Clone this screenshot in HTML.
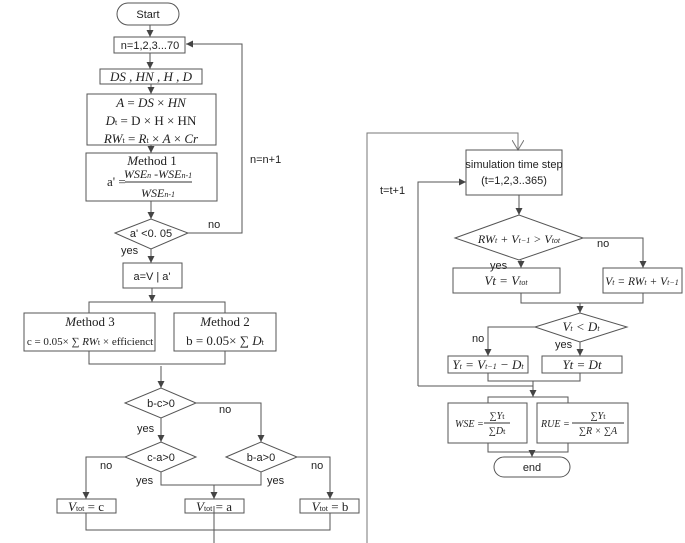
<!DOCTYPE html>
<html><head><meta charset="utf-8"><style>
html,body{margin:0;padding:0;background:#fff}
svg{display:block}
text{font-family:"Liberation Sans",Arial,sans-serif;font-size:11px;fill:#222}
.m{font-family:"Liberation Serif",serif;font-size:13px}
.i{font-style:italic}
.s{font-size:8px}
</style></head><body>
<svg width="685" height="543" viewBox="0 0 685 543" xmlns="http://www.w3.org/2000/svg">
<defs><marker id="a" markerWidth="8" markerHeight="8" refX="7" refY="4" orient="auto" markerUnits="userSpaceOnUse"><path d="M0,0.5 L7,4 L0,7.5z" fill="#444"/></marker>
<marker id="o" markerWidth="12" markerHeight="12" refX="10" refY="6" orient="auto" markerUnits="userSpaceOnUse"><path d="M0,0 L10,6 L0,12" fill="none" stroke="#777"/></marker></defs>
<g fill="none" stroke="#555" stroke-width="1">
<rect x="117" y="3" width="62" height="22" rx="11"/>
<line x1="150" y1="25" x2="150" y2="37" marker-end="url(#a)"/>
<rect x="114" y="37" width="71" height="16"/>
<line x1="150" y1="53" x2="150" y2="69" marker-end="url(#a)"/>
<rect x="100" y="69" width="102" height="15"/>
<line x1="151" y1="84" x2="151" y2="94" marker-end="url(#a)"/>
<rect x="87" y="94" width="129" height="51"/>
<line x1="151" y1="145" x2="151" y2="153" marker-end="url(#a)"/>
<rect x="86" y="153" width="131" height="48"/>
<line x1="151" y1="201" x2="151" y2="219" marker-end="url(#a)"/>
<polygon points="115,233 151,219 188,233 151,249"/>
<polyline points="188,233 242,233 242,44 186,44" marker-end="url(#a)"/>
<line x1="151" y1="249" x2="151" y2="263" marker-end="url(#a)"/>
<rect x="123" y="263" width="59" height="25"/>
<line x1="152" y1="288" x2="152" y2="302" marker-end="url(#a)"/>
<polyline points="89,313 89,302 225,302 225,313"/>
<rect x="24" y="313" width="131" height="38"/>
<rect x="174" y="313" width="102" height="38"/>
<polyline points="89,351 89,364 225,364 225,351"/>
<line x1="161" y1="366" x2="161" y2="388" marker-end="url(#a)"/>
<polygon points="125,403 161,388 196,403 161,418"/>
<polyline points="196,403 261,403 261,442" marker-end="url(#a)"/>
<line x1="161" y1="418" x2="161" y2="442" marker-end="url(#a)"/>
<polygon points="125,457 161,442 196,457 161,472"/>
<polygon points="226,457 261,442 297,457 261,472"/>
<polyline points="125,457 86,457 86,499" marker-end="url(#a)"/>
<polyline points="161,472 161,485 261,485 261,472"/>
<line x1="214" y1="485" x2="214" y2="499" marker-end="url(#a)"/>
<polyline points="297,457 330,457 330,499" marker-end="url(#a)"/>
<rect x="57" y="499" width="59" height="14"/>
<rect x="185" y="499" width="59" height="14"/>
<rect x="300" y="499" width="59" height="14"/>
<polyline points="86,513 86,530 330,530 330,513"/>
<line x1="214" y1="506" x2="214" y2="543"/>
<polyline points="367,543 367,133 518,133 518,150" stroke="#777" marker-end="url(#o)"/>
<rect x="466" y="150" width="96" height="45"/>
<polyline points="418,386 418,182 466,182" marker-end="url(#a)"/>
<line x1="519" y1="195" x2="519" y2="215" marker-end="url(#a)"/>
<polygon points="455,238 519,215 583,238 519,260"/>
<line x1="521" y1="260" x2="521" y2="268" marker-end="url(#a)"/>
<polyline points="583,238 643,238 643,268" marker-end="url(#a)"/>
<rect x="453" y="268" width="107" height="25"/>
<rect x="603" y="268" width="79" height="25"/>
<polyline points="521,293 521,303 643,303 643,293"/>
<line x1="580" y1="303" x2="580" y2="313" marker-end="url(#a)"/>
<polygon points="535,327 580,313 627,327 580,342"/>
<polyline points="535,327 488,327 488,356" marker-end="url(#a)"/>
<line x1="580" y1="342" x2="580" y2="356" marker-end="url(#a)"/>
<rect x="448" y="356" width="80" height="17"/>
<rect x="542" y="356" width="80" height="17"/>
<polyline points="488,373 488,381 580,381 580,373"/>
<line x1="418" y1="386" x2="533" y2="386"/>
<line x1="533" y1="381" x2="533" y2="397" marker-end="url(#a)"/>
<polyline points="488,403 488,397 568,397 568,403"/>
<rect x="448" y="403" width="79" height="40"/>
<rect x="537" y="403" width="91" height="40"/>
<polyline points="488,443 488,452 568,452 568,443"/>
<line x1="532" y1="452" x2="532" y2="457" marker-end="url(#a)"/>
<rect x="494" y="457" width="76" height="20" rx="10"/>
</g>
<text x="148" y="18" text-anchor="middle">Start</text>
<text x="150" y="49" text-anchor="middle">n=1,2,3...70</text>
<text x="151" y="81" text-anchor="middle" class="m i">DS , HN , H , D</text>
<text x="151" y="107" text-anchor="middle" class="m"><tspan class="i">A</tspan> = <tspan class="i">DS</tspan> × <tspan class="i">HN</tspan></text>
<text x="151" y="125" text-anchor="middle" class="m"><tspan class="i">D</tspan><tspan class="s">t</tspan> = D × H × HN</text>
<text x="151" y="143" text-anchor="middle" class="m"><tspan class="i">RW</tspan><tspan class="s">t</tspan> = <tspan class="i">R</tspan><tspan class="s">t</tspan> × <tspan class="i">A</tspan> × <tspan class="i">Cr</tspan></text>
<text x="152" y="165" text-anchor="middle" class="m"><tspan class="i">M</tspan>ethod 1</text>
<text x="107" y="186" class="m">a' =</text>
<line x1="125" y1="182" x2="192" y2="182" stroke="#333"/>
<text x="158" y="178" text-anchor="middle" class="m i" style="font-size:12px">WSE<tspan class="s">n</tspan> -WSE<tspan class="s">n-1</tspan></text>
<text x="158" y="197" text-anchor="middle" class="m i" style="font-size:12px">WSE<tspan class="s">n-1</tspan></text>
<text x="151" y="237" text-anchor="middle">a' &lt;0. 05</text>
<text x="208" y="228">no</text>
<text x="121" y="254">yes</text>
<text x="250" y="163">n=n+1</text>
<text x="152" y="280" text-anchor="middle">a=V | a'</text>
<text x="90" y="326" text-anchor="middle" class="m"><tspan class="i">M</tspan>ethod 3</text>
<text x="90" y="345" text-anchor="middle" class="m" style="font-size:11px">c = 0.05× ∑ <tspan class="i">RW</tspan><tspan class="s">t</tspan> × efficienct</text>
<text x="225" y="326" text-anchor="middle" class="m"><tspan class="i">M</tspan>ethod 2</text>
<text x="225" y="345" text-anchor="middle" class="m">b = 0.05× ∑ <tspan class="i">D</tspan><tspan class="s">t</tspan></text>
<text x="161" y="407" text-anchor="middle">b-c&gt;0</text>
<text x="219" y="413">no</text>
<text x="137" y="432">yes</text>
<text x="161" y="461" text-anchor="middle">c-a&gt;0</text>
<text x="261" y="461" text-anchor="middle">b-a&gt;0</text>
<text x="100" y="469">no</text>
<text x="136" y="484">yes</text>
<text x="267" y="484">yes</text>
<text x="311" y="469">no</text>
<text x="86" y="511" text-anchor="middle" class="m"><tspan class="i">V</tspan><tspan class="s">tot</tspan> = c</text>
<text x="214" y="511" text-anchor="middle" class="m"><tspan class="i">V</tspan><tspan class="s">tot</tspan> = a</text>
<text x="330" y="511" text-anchor="middle" class="m"><tspan class="i">V</tspan><tspan class="s">tot</tspan> = b</text>
<text x="514" y="168" text-anchor="middle">simulation time step</text>
<text x="514" y="184" text-anchor="middle">(t=1,2,3..365)</text>
<text x="380" y="194">t=t+1</text>
<text x="519" y="243" text-anchor="middle" class="m i" style="font-size:12px">RW<tspan class="s">t</tspan> + V<tspan class="s">t−1</tspan> &gt; V<tspan class="s">tot</tspan></text>
<text x="597" y="247">no</text>
<text x="490" y="269">yes</text>
<text x="506" y="285" text-anchor="middle" class="m i">Vt = V<tspan class="s">tot</tspan></text>
<text x="642" y="285" text-anchor="middle" class="m i" style="font-size:11.5px">V<tspan class="s">t</tspan> = RW<tspan class="s">t</tspan> + V<tspan class="s">t−1</tspan></text>
<text x="581" y="331" text-anchor="middle" class="m i">V<tspan class="s">t</tspan> &lt; D<tspan class="s">t</tspan></text>
<text x="472" y="342">no</text>
<text x="555" y="348">yes</text>
<text x="488" y="369" text-anchor="middle" class="m i">Y<tspan class="s">t</tspan> = V<tspan class="s">t−1</tspan> − D<tspan class="s">t</tspan></text>
<text x="582" y="369" text-anchor="middle" class="m i">Yt = Dt</text>
<text x="455" y="427" class="m i" style="font-size:10px">WSE =</text>
<line x1="484" y1="423" x2="510" y2="423" stroke="#333"/>
<text x="497" y="419" text-anchor="middle" class="m" style="font-size:10px">∑<tspan class="i">Y</tspan><tspan class="s">t</tspan></text>
<text x="497" y="434" text-anchor="middle" class="m" style="font-size:10px">∑<tspan class="i">D</tspan><tspan class="s">t</tspan></text>
<text x="541" y="427" class="m i" style="font-size:10px">RUE =</text>
<line x1="572" y1="423" x2="624" y2="423" stroke="#333"/>
<text x="598" y="419" text-anchor="middle" class="m" style="font-size:10px">∑<tspan class="i">Y</tspan><tspan class="s">t</tspan></text>
<text x="598" y="434" text-anchor="middle" class="m i" style="font-size:10px">∑R × ∑A</text>
<text x="532" y="471" text-anchor="middle">end</text>
</svg>
</body></html>
